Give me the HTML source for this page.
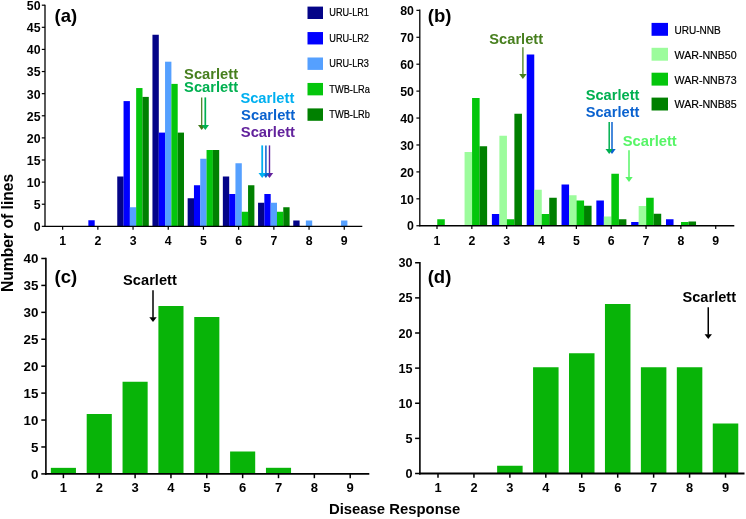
<!DOCTYPE html>
<html lang="en">
<head>
<meta charset="utf-8">
<title>Disease Response</title>
<style>
html,body{margin:0;padding:0;background:#fff;}
body{width:746px;height:519px;overflow:hidden;}
svg{display:block;font-family:'Liberation Sans', sans-serif;}
</style>
</head>
<body>
<svg width="746" height="519" viewBox="0 0 746 519">
<rect x="0" y="0" width="746" height="519" fill="#ffffff"/>
<rect x="88.35" y="220.25" width="6.35" height="6.10" fill="#0000ff"/>
<rect x="117.25" y="176.50" width="6.35" height="49.85" fill="#040488"/>
<rect x="123.55" y="101.10" width="6.35" height="125.25" fill="#0000ff"/>
<rect x="129.85" y="207.25" width="6.35" height="19.10" fill="#55a0ff"/>
<rect x="136.15" y="88.05" width="6.35" height="138.30" fill="#04c60c"/>
<rect x="142.45" y="96.90" width="6.35" height="129.45" fill="#008000"/>
<rect x="152.45" y="34.75" width="6.35" height="191.60" fill="#040488"/>
<rect x="158.75" y="132.60" width="6.35" height="93.75" fill="#0000ff"/>
<rect x="165.05" y="61.70" width="6.35" height="164.65" fill="#55a0ff"/>
<rect x="171.35" y="83.90" width="6.35" height="142.45" fill="#04c60c"/>
<rect x="177.65" y="132.60" width="6.35" height="93.75" fill="#008000"/>
<rect x="187.65" y="198.25" width="6.35" height="28.10" fill="#040488"/>
<rect x="193.95" y="185.25" width="6.35" height="41.10" fill="#0000ff"/>
<rect x="200.25" y="158.75" width="6.35" height="67.60" fill="#55a0ff"/>
<rect x="206.55" y="150.00" width="6.35" height="76.35" fill="#04c60c"/>
<rect x="212.85" y="150.00" width="6.35" height="76.35" fill="#008000"/>
<rect x="222.85" y="176.50" width="6.35" height="49.85" fill="#040488"/>
<rect x="229.15" y="194.00" width="6.35" height="32.35" fill="#0000ff"/>
<rect x="235.45" y="163.25" width="6.35" height="63.10" fill="#55a0ff"/>
<rect x="241.75" y="211.75" width="6.35" height="14.60" fill="#04c60c"/>
<rect x="248.05" y="185.25" width="6.35" height="41.10" fill="#008000"/>
<rect x="258.05" y="202.75" width="6.35" height="23.60" fill="#040488"/>
<rect x="264.35" y="194.00" width="6.35" height="32.35" fill="#0000ff"/>
<rect x="270.65" y="202.75" width="6.35" height="23.60" fill="#55a0ff"/>
<rect x="276.95" y="211.75" width="6.35" height="14.60" fill="#04c60c"/>
<rect x="283.25" y="207.25" width="6.35" height="19.10" fill="#008000"/>
<rect x="293.25" y="220.50" width="6.35" height="5.85" fill="#040488"/>
<rect x="305.85" y="220.50" width="6.35" height="5.85" fill="#55a0ff"/>
<rect x="341.05" y="220.50" width="6.35" height="5.85" fill="#55a0ff"/>
<line x1="45.00" y1="4.70" x2="45.00" y2="226.95" stroke="#000" stroke-width="1.3"/>
<line x1="44.40" y1="226.35" x2="362.30" y2="226.35" stroke="#000" stroke-width="1.3"/>
<line x1="41.80" y1="226.35" x2="45.00" y2="226.35" stroke="#000" stroke-width="1.2"/>
<text x="40.50" y="231.25" font-size="12.1" font-weight="bold" text-anchor="end" fill="#000" textLength="6.85" lengthAdjust="spacingAndGlyphs">0</text>
<line x1="41.80" y1="204.23" x2="45.00" y2="204.23" stroke="#000" stroke-width="1.2"/>
<text x="40.50" y="209.13" font-size="12.1" font-weight="bold" text-anchor="end" fill="#000" textLength="6.85" lengthAdjust="spacingAndGlyphs">5</text>
<line x1="41.80" y1="182.12" x2="45.00" y2="182.12" stroke="#000" stroke-width="1.2"/>
<text x="40.50" y="187.02" font-size="12.1" font-weight="bold" text-anchor="end" fill="#000" textLength="13.70" lengthAdjust="spacingAndGlyphs">10</text>
<line x1="41.80" y1="160.00" x2="45.00" y2="160.00" stroke="#000" stroke-width="1.2"/>
<text x="40.50" y="164.91" font-size="12.1" font-weight="bold" text-anchor="end" fill="#000" textLength="13.70" lengthAdjust="spacingAndGlyphs">15</text>
<line x1="41.80" y1="137.89" x2="45.00" y2="137.89" stroke="#000" stroke-width="1.2"/>
<text x="40.50" y="142.79" font-size="12.1" font-weight="bold" text-anchor="end" fill="#000" textLength="13.70" lengthAdjust="spacingAndGlyphs">20</text>
<line x1="41.80" y1="115.77" x2="45.00" y2="115.77" stroke="#000" stroke-width="1.2"/>
<text x="40.50" y="120.67" font-size="12.1" font-weight="bold" text-anchor="end" fill="#000" textLength="13.70" lengthAdjust="spacingAndGlyphs">25</text>
<line x1="41.80" y1="93.66" x2="45.00" y2="93.66" stroke="#000" stroke-width="1.2"/>
<text x="40.50" y="98.56" font-size="12.1" font-weight="bold" text-anchor="end" fill="#000" textLength="13.70" lengthAdjust="spacingAndGlyphs">30</text>
<line x1="41.80" y1="71.54" x2="45.00" y2="71.54" stroke="#000" stroke-width="1.2"/>
<text x="40.50" y="76.44" font-size="12.1" font-weight="bold" text-anchor="end" fill="#000" textLength="13.70" lengthAdjust="spacingAndGlyphs">35</text>
<line x1="41.80" y1="49.43" x2="45.00" y2="49.43" stroke="#000" stroke-width="1.2"/>
<text x="40.50" y="54.33" font-size="12.1" font-weight="bold" text-anchor="end" fill="#000" textLength="13.70" lengthAdjust="spacingAndGlyphs">40</text>
<line x1="41.80" y1="27.31" x2="45.00" y2="27.31" stroke="#000" stroke-width="1.2"/>
<text x="40.50" y="32.21" font-size="12.1" font-weight="bold" text-anchor="end" fill="#000" textLength="13.70" lengthAdjust="spacingAndGlyphs">45</text>
<line x1="41.80" y1="5.20" x2="45.00" y2="5.20" stroke="#000" stroke-width="1.2"/>
<text x="40.50" y="10.10" font-size="12.1" font-weight="bold" text-anchor="end" fill="#000" textLength="13.70" lengthAdjust="spacingAndGlyphs">50</text>
<line x1="62.65" y1="226.35" x2="62.65" y2="229.65" stroke="#000" stroke-width="1.2"/>
<text x="62.65" y="244.60" font-size="12.1" font-weight="bold" text-anchor="middle" fill="#000" textLength="6.85" lengthAdjust="spacingAndGlyphs">1</text>
<line x1="97.85" y1="226.35" x2="97.85" y2="229.65" stroke="#000" stroke-width="1.2"/>
<text x="97.85" y="244.60" font-size="12.1" font-weight="bold" text-anchor="middle" fill="#000" textLength="6.85" lengthAdjust="spacingAndGlyphs">2</text>
<line x1="133.05" y1="226.35" x2="133.05" y2="229.65" stroke="#000" stroke-width="1.2"/>
<text x="133.05" y="244.60" font-size="12.1" font-weight="bold" text-anchor="middle" fill="#000" textLength="6.85" lengthAdjust="spacingAndGlyphs">3</text>
<line x1="168.25" y1="226.35" x2="168.25" y2="229.65" stroke="#000" stroke-width="1.2"/>
<text x="168.25" y="244.60" font-size="12.1" font-weight="bold" text-anchor="middle" fill="#000" textLength="6.85" lengthAdjust="spacingAndGlyphs">4</text>
<line x1="203.45" y1="226.35" x2="203.45" y2="229.65" stroke="#000" stroke-width="1.2"/>
<text x="203.45" y="244.60" font-size="12.1" font-weight="bold" text-anchor="middle" fill="#000" textLength="6.85" lengthAdjust="spacingAndGlyphs">5</text>
<line x1="238.65" y1="226.35" x2="238.65" y2="229.65" stroke="#000" stroke-width="1.2"/>
<text x="238.65" y="244.60" font-size="12.1" font-weight="bold" text-anchor="middle" fill="#000" textLength="6.85" lengthAdjust="spacingAndGlyphs">6</text>
<line x1="273.85" y1="226.35" x2="273.85" y2="229.65" stroke="#000" stroke-width="1.2"/>
<text x="273.85" y="244.60" font-size="12.1" font-weight="bold" text-anchor="middle" fill="#000" textLength="6.85" lengthAdjust="spacingAndGlyphs">7</text>
<line x1="309.05" y1="226.35" x2="309.05" y2="229.65" stroke="#000" stroke-width="1.2"/>
<text x="309.05" y="244.60" font-size="12.1" font-weight="bold" text-anchor="middle" fill="#000" textLength="6.85" lengthAdjust="spacingAndGlyphs">8</text>
<line x1="344.25" y1="226.35" x2="344.25" y2="229.65" stroke="#000" stroke-width="1.2"/>
<text x="344.25" y="244.60" font-size="12.1" font-weight="bold" text-anchor="middle" fill="#000" textLength="6.85" lengthAdjust="spacingAndGlyphs">9</text>
<text x="54.60" y="22.10" font-size="18.5" font-weight="bold" text-anchor="start" fill="#000">(a)</text>
<rect x="307.50" y="6.60" width="15.50" height="12.40" fill="#040488"/>
<text x="329.30" y="16.35" font-size="10.2" font-weight="normal" text-anchor="start" fill="#000" textLength="39.60" lengthAdjust="spacingAndGlyphs" stroke="#000" stroke-width="0.2">URU-LR1</text>
<rect x="307.50" y="32.05" width="15.50" height="12.40" fill="#0000ff"/>
<text x="329.30" y="41.80" font-size="10.2" font-weight="normal" text-anchor="start" fill="#000" textLength="39.60" lengthAdjust="spacingAndGlyphs" stroke="#000" stroke-width="0.2">URU-LR2</text>
<rect x="307.50" y="57.50" width="15.50" height="12.40" fill="#55a0ff"/>
<text x="329.30" y="67.25" font-size="10.2" font-weight="normal" text-anchor="start" fill="#000" textLength="39.60" lengthAdjust="spacingAndGlyphs" stroke="#000" stroke-width="0.2">URU-LR3</text>
<rect x="307.50" y="82.95" width="15.50" height="12.40" fill="#04c60c"/>
<text x="329.30" y="92.70" font-size="10.2" font-weight="normal" text-anchor="start" fill="#000" textLength="40.60" lengthAdjust="spacingAndGlyphs" stroke="#000" stroke-width="0.2">TWB-LRa</text>
<rect x="307.50" y="108.40" width="15.50" height="12.40" fill="#008000"/>
<text x="329.30" y="118.15" font-size="10.2" font-weight="normal" text-anchor="start" fill="#000" textLength="40.60" lengthAdjust="spacingAndGlyphs" stroke="#000" stroke-width="0.2">TWB-LRb</text>
<text x="184.10" y="78.50" font-size="14.9" font-weight="bold" text-anchor="start" fill="#477f1e" textLength="54.00" lengthAdjust="spacingAndGlyphs">Scarlett</text>
<text x="184.10" y="91.50" font-size="14.9" font-weight="bold" text-anchor="start" fill="#00b050" textLength="54.00" lengthAdjust="spacingAndGlyphs">Scarlett</text>
<text x="240.40" y="102.80" font-size="14.9" font-weight="bold" text-anchor="start" fill="#00b0f0" textLength="53.90" lengthAdjust="spacingAndGlyphs">Scarlett</text>
<text x="241.10" y="119.60" font-size="14.9" font-weight="bold" text-anchor="start" fill="#0a62cf" textLength="54.10" lengthAdjust="spacingAndGlyphs">Scarlett</text>
<text x="240.80" y="136.80" font-size="14.9" font-weight="bold" text-anchor="start" fill="#62229c" textLength="54.20" lengthAdjust="spacingAndGlyphs">Scarlett</text>
<line x1="201.70" y1="97.40" x2="201.70" y2="125.40" stroke="#3f7a1a" stroke-width="1.2"/>
<polygon points="198.00,124.90 205.40,124.90 201.70,129.90" fill="#3f7a1a"/>
<line x1="205.30" y1="97.40" x2="205.30" y2="125.40" stroke="#00b050" stroke-width="1.7"/>
<polygon points="201.60,124.90 209.00,124.90 205.30,129.90" fill="#00b050"/>
<line x1="269.50" y1="145.40" x2="269.50" y2="173.40" stroke="#62229c" stroke-width="1.4"/>
<polygon points="265.80,172.90 273.20,172.90 269.50,177.90" fill="#62229c"/>
<line x1="265.90" y1="145.40" x2="265.90" y2="173.40" stroke="#0a62cf" stroke-width="1.5"/>
<polygon points="262.20,172.90 269.60,172.90 265.90,177.90" fill="#0a62cf"/>
<line x1="262.20" y1="145.40" x2="262.20" y2="173.40" stroke="#00b0f0" stroke-width="1.8"/>
<polygon points="258.50,172.90 265.90,172.90 262.20,177.90" fill="#00b0f0"/>
<rect x="437.25" y="219.25" width="7.55" height="6.50" fill="#04c60c"/>
<rect x="464.57" y="152.00" width="7.55" height="73.75" fill="#9cfc9c"/>
<rect x="472.07" y="98.00" width="7.55" height="127.75" fill="#04c60c"/>
<rect x="479.57" y="146.25" width="7.55" height="79.50" fill="#008000"/>
<rect x="491.89" y="214.00" width="7.55" height="11.75" fill="#0000ff"/>
<rect x="499.39" y="135.75" width="7.55" height="90.00" fill="#9cfc9c"/>
<rect x="506.89" y="219.25" width="7.55" height="6.50" fill="#04c60c"/>
<rect x="514.39" y="113.75" width="7.55" height="112.00" fill="#008000"/>
<rect x="526.71" y="54.50" width="7.55" height="171.25" fill="#0000ff"/>
<rect x="534.21" y="189.75" width="7.55" height="36.00" fill="#9cfc9c"/>
<rect x="541.71" y="214.00" width="7.55" height="11.75" fill="#04c60c"/>
<rect x="549.21" y="197.75" width="7.55" height="28.00" fill="#008000"/>
<rect x="561.53" y="184.50" width="7.55" height="41.25" fill="#0000ff"/>
<rect x="569.03" y="195.25" width="7.55" height="30.50" fill="#9cfc9c"/>
<rect x="576.53" y="200.50" width="7.55" height="25.25" fill="#04c60c"/>
<rect x="584.03" y="205.75" width="7.55" height="20.00" fill="#008000"/>
<rect x="596.35" y="200.50" width="7.55" height="25.25" fill="#0000ff"/>
<rect x="603.85" y="216.50" width="7.55" height="9.25" fill="#9cfc9c"/>
<rect x="611.35" y="173.75" width="7.55" height="52.00" fill="#04c60c"/>
<rect x="618.85" y="219.25" width="7.55" height="6.50" fill="#008000"/>
<rect x="631.17" y="222.00" width="7.55" height="3.75" fill="#0000ff"/>
<rect x="638.67" y="206.00" width="7.55" height="19.75" fill="#9cfc9c"/>
<rect x="646.17" y="197.75" width="7.55" height="28.00" fill="#04c60c"/>
<rect x="653.67" y="213.75" width="7.55" height="12.00" fill="#008000"/>
<rect x="665.99" y="219.25" width="7.55" height="6.50" fill="#0000ff"/>
<rect x="680.99" y="222.00" width="7.55" height="3.75" fill="#04c60c"/>
<rect x="688.49" y="221.50" width="7.55" height="4.25" fill="#008000"/>
<line x1="419.80" y1="9.40" x2="419.80" y2="226.35" stroke="#000" stroke-width="1.3"/>
<line x1="419.20" y1="225.75" x2="734.30" y2="225.75" stroke="#000" stroke-width="1.3"/>
<line x1="416.40" y1="225.75" x2="419.80" y2="225.75" stroke="#000" stroke-width="1.2"/>
<text x="413.90" y="230.45" font-size="12.1" font-weight="bold" text-anchor="end" fill="#000" textLength="6.85" lengthAdjust="spacingAndGlyphs">0</text>
<line x1="416.40" y1="198.82" x2="419.80" y2="198.82" stroke="#000" stroke-width="1.2"/>
<text x="413.90" y="203.52" font-size="12.1" font-weight="bold" text-anchor="end" fill="#000" textLength="13.70" lengthAdjust="spacingAndGlyphs">10</text>
<line x1="416.40" y1="171.90" x2="419.80" y2="171.90" stroke="#000" stroke-width="1.2"/>
<text x="413.90" y="176.60" font-size="12.1" font-weight="bold" text-anchor="end" fill="#000" textLength="13.70" lengthAdjust="spacingAndGlyphs">20</text>
<line x1="416.40" y1="144.98" x2="419.80" y2="144.98" stroke="#000" stroke-width="1.2"/>
<text x="413.90" y="149.68" font-size="12.1" font-weight="bold" text-anchor="end" fill="#000" textLength="13.70" lengthAdjust="spacingAndGlyphs">30</text>
<line x1="416.40" y1="118.05" x2="419.80" y2="118.05" stroke="#000" stroke-width="1.2"/>
<text x="413.90" y="122.75" font-size="12.1" font-weight="bold" text-anchor="end" fill="#000" textLength="13.70" lengthAdjust="spacingAndGlyphs">40</text>
<line x1="416.40" y1="91.12" x2="419.80" y2="91.12" stroke="#000" stroke-width="1.2"/>
<text x="413.90" y="95.83" font-size="12.1" font-weight="bold" text-anchor="end" fill="#000" textLength="13.70" lengthAdjust="spacingAndGlyphs">50</text>
<line x1="416.40" y1="64.20" x2="419.80" y2="64.20" stroke="#000" stroke-width="1.2"/>
<text x="413.90" y="68.90" font-size="12.1" font-weight="bold" text-anchor="end" fill="#000" textLength="13.70" lengthAdjust="spacingAndGlyphs">60</text>
<line x1="416.40" y1="37.28" x2="419.80" y2="37.28" stroke="#000" stroke-width="1.2"/>
<text x="413.90" y="41.98" font-size="12.1" font-weight="bold" text-anchor="end" fill="#000" textLength="13.70" lengthAdjust="spacingAndGlyphs">70</text>
<line x1="416.40" y1="10.35" x2="419.80" y2="10.35" stroke="#000" stroke-width="1.2"/>
<text x="413.90" y="15.05" font-size="12.1" font-weight="bold" text-anchor="end" fill="#000" textLength="13.70" lengthAdjust="spacingAndGlyphs">80</text>
<line x1="437.00" y1="225.75" x2="437.00" y2="229.05" stroke="#000" stroke-width="1.2"/>
<text x="437.00" y="244.50" font-size="12.1" font-weight="bold" text-anchor="middle" fill="#000" textLength="6.85" lengthAdjust="spacingAndGlyphs">1</text>
<line x1="471.84" y1="225.75" x2="471.84" y2="229.05" stroke="#000" stroke-width="1.2"/>
<text x="471.84" y="244.50" font-size="12.1" font-weight="bold" text-anchor="middle" fill="#000" textLength="6.85" lengthAdjust="spacingAndGlyphs">2</text>
<line x1="506.68" y1="225.75" x2="506.68" y2="229.05" stroke="#000" stroke-width="1.2"/>
<text x="506.68" y="244.50" font-size="12.1" font-weight="bold" text-anchor="middle" fill="#000" textLength="6.85" lengthAdjust="spacingAndGlyphs">3</text>
<line x1="541.52" y1="225.75" x2="541.52" y2="229.05" stroke="#000" stroke-width="1.2"/>
<text x="541.52" y="244.50" font-size="12.1" font-weight="bold" text-anchor="middle" fill="#000" textLength="6.85" lengthAdjust="spacingAndGlyphs">4</text>
<line x1="576.36" y1="225.75" x2="576.36" y2="229.05" stroke="#000" stroke-width="1.2"/>
<text x="576.36" y="244.50" font-size="12.1" font-weight="bold" text-anchor="middle" fill="#000" textLength="6.85" lengthAdjust="spacingAndGlyphs">5</text>
<line x1="611.20" y1="225.75" x2="611.20" y2="229.05" stroke="#000" stroke-width="1.2"/>
<text x="611.20" y="244.50" font-size="12.1" font-weight="bold" text-anchor="middle" fill="#000" textLength="6.85" lengthAdjust="spacingAndGlyphs">6</text>
<line x1="646.04" y1="225.75" x2="646.04" y2="229.05" stroke="#000" stroke-width="1.2"/>
<text x="646.04" y="244.50" font-size="12.1" font-weight="bold" text-anchor="middle" fill="#000" textLength="6.85" lengthAdjust="spacingAndGlyphs">7</text>
<line x1="680.88" y1="225.75" x2="680.88" y2="229.05" stroke="#000" stroke-width="1.2"/>
<text x="680.88" y="244.50" font-size="12.1" font-weight="bold" text-anchor="middle" fill="#000" textLength="6.85" lengthAdjust="spacingAndGlyphs">8</text>
<line x1="715.72" y1="225.75" x2="715.72" y2="229.05" stroke="#000" stroke-width="1.2"/>
<text x="715.72" y="244.50" font-size="12.1" font-weight="bold" text-anchor="middle" fill="#000" textLength="6.85" lengthAdjust="spacingAndGlyphs">9</text>
<text x="427.80" y="22.10" font-size="18.5" font-weight="bold" text-anchor="start" fill="#000">(b)</text>
<rect x="651.55" y="22.90" width="16.45" height="12.90" fill="#0000ff"/>
<text x="674.50" y="33.70" font-size="10.8" font-weight="normal" text-anchor="start" fill="#000" textLength="46.30" lengthAdjust="spacingAndGlyphs" stroke="#000" stroke-width="0.2">URU-NNB</text>
<rect x="651.55" y="47.80" width="16.45" height="12.90" fill="#9cfc9c"/>
<text x="674.50" y="58.60" font-size="10.8" font-weight="normal" text-anchor="start" fill="#000" textLength="62.20" lengthAdjust="spacingAndGlyphs" stroke="#000" stroke-width="0.2">WAR-NNB50</text>
<rect x="651.55" y="72.70" width="16.45" height="12.90" fill="#04c60c"/>
<text x="674.50" y="83.50" font-size="10.8" font-weight="normal" text-anchor="start" fill="#000" textLength="62.20" lengthAdjust="spacingAndGlyphs" stroke="#000" stroke-width="0.2">WAR-NNB73</text>
<rect x="651.55" y="97.60" width="16.45" height="12.90" fill="#008000"/>
<text x="674.50" y="108.40" font-size="10.8" font-weight="normal" text-anchor="start" fill="#000" textLength="62.20" lengthAdjust="spacingAndGlyphs" stroke="#000" stroke-width="0.2">WAR-NNB85</text>
<text x="489.30" y="43.50" font-size="14.9" font-weight="bold" text-anchor="start" fill="#477f1e" textLength="53.80" lengthAdjust="spacingAndGlyphs">Scarlett</text>
<line x1="522.90" y1="47.30" x2="522.90" y2="74.40" stroke="#477f1e" stroke-width="1.3"/>
<polygon points="519.20,73.90 526.60,73.90 522.90,78.90" fill="#477f1e"/>
<text x="585.70" y="99.70" font-size="14.9" font-weight="bold" text-anchor="start" fill="#00b050" textLength="53.70" lengthAdjust="spacingAndGlyphs">Scarlett</text>
<text x="585.70" y="116.90" font-size="14.9" font-weight="bold" text-anchor="start" fill="#0a62cf" textLength="53.70" lengthAdjust="spacingAndGlyphs">Scarlett</text>
<line x1="612.00" y1="122.00" x2="612.00" y2="149.50" stroke="#0a62cf" stroke-width="1.5"/>
<polygon points="608.30,149.00 615.70,149.00 612.00,154.00" fill="#0a62cf"/>
<line x1="609.20" y1="122.00" x2="609.20" y2="149.50" stroke="#00b050" stroke-width="1.5"/>
<polygon points="605.50,149.00 612.90,149.00 609.20,154.00" fill="#00b050"/>
<text x="622.70" y="145.90" font-size="14.9" font-weight="bold" text-anchor="start" fill="#57f567" textLength="54.10" lengthAdjust="spacingAndGlyphs">Scarlett</text>
<line x1="629.00" y1="150.20" x2="629.00" y2="177.50" stroke="#57f567" stroke-width="1.5"/>
<polygon points="625.30,177.00 632.70,177.00 629.00,182.00" fill="#57f567"/>
<rect x="50.85" y="467.85" width="25.10" height="6.05" fill="#08b408"/>
<rect x="86.70" y="414.00" width="25.10" height="59.90" fill="#08b408"/>
<rect x="122.55" y="381.75" width="25.10" height="92.15" fill="#08b408"/>
<rect x="158.40" y="306.00" width="25.10" height="167.90" fill="#08b408"/>
<rect x="194.25" y="317.00" width="25.10" height="156.90" fill="#08b408"/>
<rect x="230.10" y="451.50" width="25.10" height="22.40" fill="#08b408"/>
<rect x="265.95" y="467.80" width="25.10" height="6.10" fill="#08b408"/>
<line x1="45.90" y1="257.80" x2="45.90" y2="474.80" stroke="#000" stroke-width="1.6"/>
<line x1="45.10" y1="473.90" x2="369.30" y2="473.90" stroke="#000" stroke-width="1.8"/>
<line x1="41.30" y1="473.90" x2="45.90" y2="473.90" stroke="#000" stroke-width="1.5"/>
<text x="38.50" y="478.75" font-size="13.4" font-weight="bold" text-anchor="end" fill="#000">0</text>
<line x1="41.30" y1="446.97" x2="45.90" y2="446.97" stroke="#000" stroke-width="1.5"/>
<text x="38.50" y="451.82" font-size="13.4" font-weight="bold" text-anchor="end" fill="#000">5</text>
<line x1="41.30" y1="420.05" x2="45.90" y2="420.05" stroke="#000" stroke-width="1.5"/>
<text x="38.50" y="424.90" font-size="13.4" font-weight="bold" text-anchor="end" fill="#000">10</text>
<line x1="41.30" y1="393.12" x2="45.90" y2="393.12" stroke="#000" stroke-width="1.5"/>
<text x="38.50" y="397.98" font-size="13.4" font-weight="bold" text-anchor="end" fill="#000">15</text>
<line x1="41.30" y1="366.20" x2="45.90" y2="366.20" stroke="#000" stroke-width="1.5"/>
<text x="38.50" y="371.05" font-size="13.4" font-weight="bold" text-anchor="end" fill="#000">20</text>
<line x1="41.30" y1="339.27" x2="45.90" y2="339.27" stroke="#000" stroke-width="1.5"/>
<text x="38.50" y="344.12" font-size="13.4" font-weight="bold" text-anchor="end" fill="#000">25</text>
<line x1="41.30" y1="312.35" x2="45.90" y2="312.35" stroke="#000" stroke-width="1.5"/>
<text x="38.50" y="317.20" font-size="13.4" font-weight="bold" text-anchor="end" fill="#000">30</text>
<line x1="41.30" y1="285.42" x2="45.90" y2="285.42" stroke="#000" stroke-width="1.5"/>
<text x="38.50" y="290.27" font-size="13.4" font-weight="bold" text-anchor="end" fill="#000">35</text>
<line x1="41.30" y1="258.50" x2="45.90" y2="258.50" stroke="#000" stroke-width="1.5"/>
<text x="38.50" y="263.35" font-size="13.4" font-weight="bold" text-anchor="end" fill="#000">40</text>
<line x1="63.40" y1="473.90" x2="63.40" y2="478.20" stroke="#000" stroke-width="1.5"/>
<text x="63.40" y="492.40" font-size="13.0" font-weight="bold" text-anchor="middle" fill="#000">1</text>
<line x1="99.25" y1="473.90" x2="99.25" y2="478.20" stroke="#000" stroke-width="1.5"/>
<text x="99.25" y="492.40" font-size="13.0" font-weight="bold" text-anchor="middle" fill="#000">2</text>
<line x1="135.10" y1="473.90" x2="135.10" y2="478.20" stroke="#000" stroke-width="1.5"/>
<text x="135.10" y="492.40" font-size="13.0" font-weight="bold" text-anchor="middle" fill="#000">3</text>
<line x1="170.95" y1="473.90" x2="170.95" y2="478.20" stroke="#000" stroke-width="1.5"/>
<text x="170.95" y="492.40" font-size="13.0" font-weight="bold" text-anchor="middle" fill="#000">4</text>
<line x1="206.80" y1="473.90" x2="206.80" y2="478.20" stroke="#000" stroke-width="1.5"/>
<text x="206.80" y="492.40" font-size="13.0" font-weight="bold" text-anchor="middle" fill="#000">5</text>
<line x1="242.65" y1="473.90" x2="242.65" y2="478.20" stroke="#000" stroke-width="1.5"/>
<text x="242.65" y="492.40" font-size="13.0" font-weight="bold" text-anchor="middle" fill="#000">6</text>
<line x1="278.50" y1="473.90" x2="278.50" y2="478.20" stroke="#000" stroke-width="1.5"/>
<text x="278.50" y="492.40" font-size="13.0" font-weight="bold" text-anchor="middle" fill="#000">7</text>
<line x1="314.35" y1="473.90" x2="314.35" y2="478.20" stroke="#000" stroke-width="1.5"/>
<text x="314.35" y="492.40" font-size="13.0" font-weight="bold" text-anchor="middle" fill="#000">8</text>
<line x1="350.20" y1="473.90" x2="350.20" y2="478.20" stroke="#000" stroke-width="1.5"/>
<text x="350.20" y="492.40" font-size="13.0" font-weight="bold" text-anchor="middle" fill="#000">9</text>
<text x="54.60" y="282.80" font-size="18.5" font-weight="bold" text-anchor="start" fill="#000">(c)</text>
<text x="123.10" y="284.65" font-size="14.9" font-weight="bold" text-anchor="start" fill="#000" textLength="53.70" lengthAdjust="spacingAndGlyphs">Scarlett</text>
<line x1="153.00" y1="290.30" x2="153.00" y2="317.80" stroke="#000" stroke-width="1.5"/>
<polygon points="149.30,317.30 156.70,317.30 153.00,322.00" fill="#000"/>
<rect x="497.13" y="465.75" width="25.50" height="7.75" fill="#08b408"/>
<rect x="533.07" y="367.25" width="25.50" height="106.25" fill="#08b408"/>
<rect x="569.01" y="353.25" width="25.50" height="120.25" fill="#08b408"/>
<rect x="604.95" y="304.00" width="25.50" height="169.50" fill="#08b408"/>
<rect x="640.89" y="367.25" width="25.50" height="106.25" fill="#08b408"/>
<rect x="676.83" y="367.25" width="25.50" height="106.25" fill="#08b408"/>
<rect x="712.77" y="423.50" width="25.50" height="50.00" fill="#08b408"/>
<line x1="419.90" y1="261.90" x2="419.90" y2="474.40" stroke="#000" stroke-width="1.6"/>
<line x1="419.10" y1="473.50" x2="744.50" y2="473.50" stroke="#000" stroke-width="1.8"/>
<line x1="415.10" y1="473.50" x2="419.90" y2="473.50" stroke="#000" stroke-width="1.5"/>
<text x="412.50" y="478.10" font-size="12.6" font-weight="bold" text-anchor="end" fill="#000">0</text>
<line x1="415.10" y1="438.38" x2="419.90" y2="438.38" stroke="#000" stroke-width="1.5"/>
<text x="412.50" y="442.98" font-size="12.6" font-weight="bold" text-anchor="end" fill="#000">5</text>
<line x1="415.10" y1="403.25" x2="419.90" y2="403.25" stroke="#000" stroke-width="1.5"/>
<text x="412.50" y="407.85" font-size="12.6" font-weight="bold" text-anchor="end" fill="#000">10</text>
<line x1="415.10" y1="368.12" x2="419.90" y2="368.12" stroke="#000" stroke-width="1.5"/>
<text x="412.50" y="372.73" font-size="12.6" font-weight="bold" text-anchor="end" fill="#000">15</text>
<line x1="415.10" y1="333.00" x2="419.90" y2="333.00" stroke="#000" stroke-width="1.5"/>
<text x="412.50" y="337.60" font-size="12.6" font-weight="bold" text-anchor="end" fill="#000">20</text>
<line x1="415.10" y1="297.88" x2="419.90" y2="297.88" stroke="#000" stroke-width="1.5"/>
<text x="412.50" y="302.48" font-size="12.6" font-weight="bold" text-anchor="end" fill="#000">25</text>
<line x1="415.10" y1="262.75" x2="419.90" y2="262.75" stroke="#000" stroke-width="1.5"/>
<text x="412.50" y="267.35" font-size="12.6" font-weight="bold" text-anchor="end" fill="#000">30</text>
<line x1="438.00" y1="473.50" x2="438.00" y2="477.70" stroke="#000" stroke-width="1.5"/>
<text x="438.00" y="491.50" font-size="12.8" font-weight="bold" text-anchor="middle" fill="#000">1</text>
<line x1="473.94" y1="473.50" x2="473.94" y2="477.70" stroke="#000" stroke-width="1.5"/>
<text x="473.94" y="491.50" font-size="12.8" font-weight="bold" text-anchor="middle" fill="#000">2</text>
<line x1="509.88" y1="473.50" x2="509.88" y2="477.70" stroke="#000" stroke-width="1.5"/>
<text x="509.88" y="491.50" font-size="12.8" font-weight="bold" text-anchor="middle" fill="#000">3</text>
<line x1="545.82" y1="473.50" x2="545.82" y2="477.70" stroke="#000" stroke-width="1.5"/>
<text x="545.82" y="491.50" font-size="12.8" font-weight="bold" text-anchor="middle" fill="#000">4</text>
<line x1="581.76" y1="473.50" x2="581.76" y2="477.70" stroke="#000" stroke-width="1.5"/>
<text x="581.76" y="491.50" font-size="12.8" font-weight="bold" text-anchor="middle" fill="#000">5</text>
<line x1="617.70" y1="473.50" x2="617.70" y2="477.70" stroke="#000" stroke-width="1.5"/>
<text x="617.70" y="491.50" font-size="12.8" font-weight="bold" text-anchor="middle" fill="#000">6</text>
<line x1="653.64" y1="473.50" x2="653.64" y2="477.70" stroke="#000" stroke-width="1.5"/>
<text x="653.64" y="491.50" font-size="12.8" font-weight="bold" text-anchor="middle" fill="#000">7</text>
<line x1="689.58" y1="473.50" x2="689.58" y2="477.70" stroke="#000" stroke-width="1.5"/>
<text x="689.58" y="491.50" font-size="12.8" font-weight="bold" text-anchor="middle" fill="#000">8</text>
<line x1="725.52" y1="473.50" x2="725.52" y2="477.70" stroke="#000" stroke-width="1.5"/>
<text x="725.52" y="491.50" font-size="12.8" font-weight="bold" text-anchor="middle" fill="#000">9</text>
<text x="427.70" y="282.80" font-size="18.5" font-weight="bold" text-anchor="start" fill="#000">(d)</text>
<text x="682.50" y="301.90" font-size="14.9" font-weight="bold" text-anchor="start" fill="#000" textLength="53.60" lengthAdjust="spacingAndGlyphs">Scarlett</text>
<line x1="708.25" y1="307.20" x2="708.25" y2="334.80" stroke="#000" stroke-width="1.5"/>
<polygon points="704.55,334.30 711.95,334.30 708.25,339.00" fill="#000"/>
<text x="328.90" y="514.40" font-size="15.3" font-weight="bold" text-anchor="start" fill="#000" textLength="131.40" lengthAdjust="spacingAndGlyphs">Disease Response</text>
<text transform="translate(13.4,292.0) rotate(-90)" font-size="15.8" font-weight="bold" textLength="118.2" lengthAdjust="spacingAndGlyphs">Number of lines</text>
</svg>
</body>
</html>
